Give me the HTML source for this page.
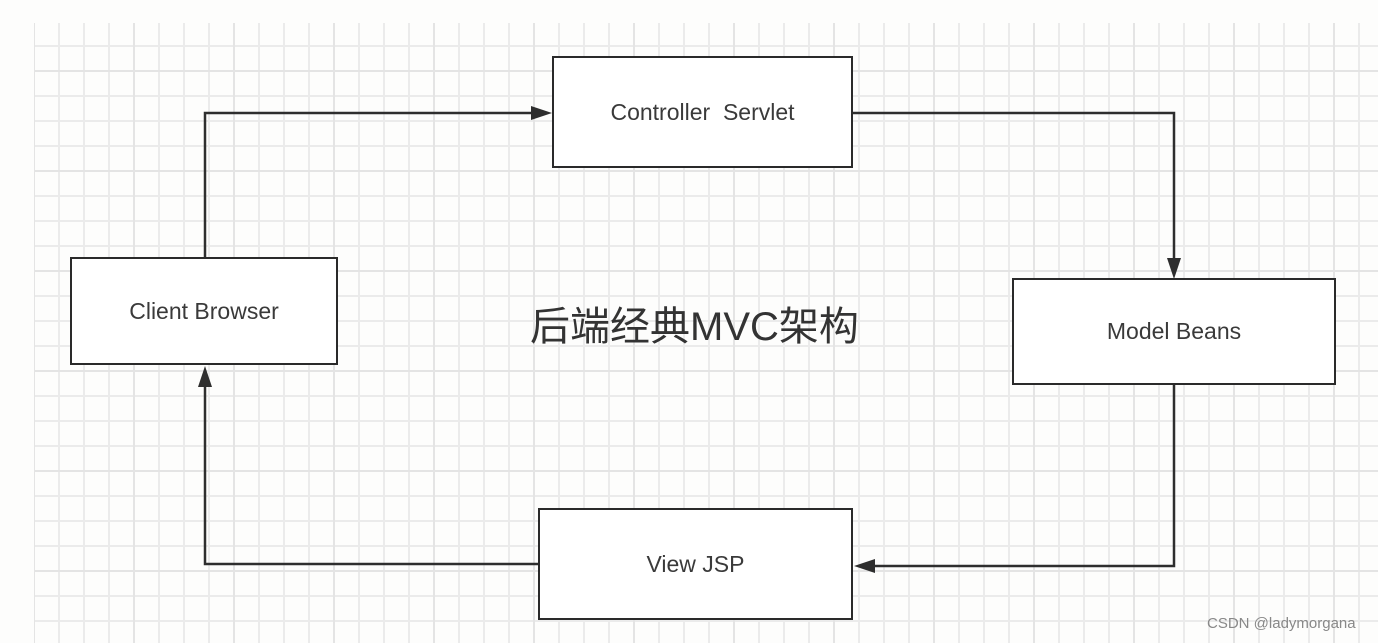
<!DOCTYPE html>
<html><head><meta charset="utf-8"><style>
body{margin:0;width:1378px;height:643px;overflow:hidden;background:#fdfdfc;font-family:"Liberation Sans","Noto Sans CJK SC",sans-serif}
.grid{position:absolute;left:34px;top:23px;right:0;bottom:0;
background-image:linear-gradient(90deg,#e4e4e4 2px,transparent 2px),linear-gradient(#e4e4e4 2px,transparent 2px),linear-gradient(90deg,#ebebeb 2px,transparent 2px),linear-gradient(#ebebeb 2px,transparent 2px);
background-size:100px 100px,100px 100px,25px 25px,25px 25px;background-position:-1px 47px,-1px 47px,-1px -3px,-1px -3px}
.box{position:absolute;border:2.5px solid #2a2a2a;background:#fff;box-sizing:border-box;display:flex;align-items:center;justify-content:center;font-size:23px;color:#3a3a3a}
</style></head><body>
<div class="grid"></div>
<svg width="1378" height="643" style="position:absolute;left:0;top:0">
<g stroke="#2e2e2e" stroke-width="2.5" fill="none">
<polyline points="205,258 205,113 535,113"/>
<polyline points="852,113 1174,113 1174,262"/>
<polyline points="1174,384 1174,566 870,566"/>
<polyline points="539,564 205,564 205,383"/>
</g>
<g fill="#2e2e2e">
<polygon points="552,113 531,106 531,120"/>
<polygon points="1174,279 1167,258 1181,258"/>
<polygon points="854,566 875,559 875,573"/>
<polygon points="205,366 198,387 212,387"/>
</g>
</svg>
<div class="box" style="left:552px;top:56px;width:301px;height:112px">Controller&nbsp; Servlet</div>
<div class="box" style="left:70px;top:257px;width:268px;height:108px">Client Browser</div>
<div class="box" style="left:1012px;top:278px;width:324px;height:107px">Model Beans</div>
<div class="box" style="left:538px;top:508px;width:315px;height:112px">View JSP</div>
<div style="position:absolute;left:530px;top:294px;font-size:40px;color:#333;white-space:nowrap">后端经典MVC架构</div>
<div style="position:absolute;left:1207px;top:615px;font-size:15px;color:#888">CSDN @ladymorgana</div>
</body></html>
